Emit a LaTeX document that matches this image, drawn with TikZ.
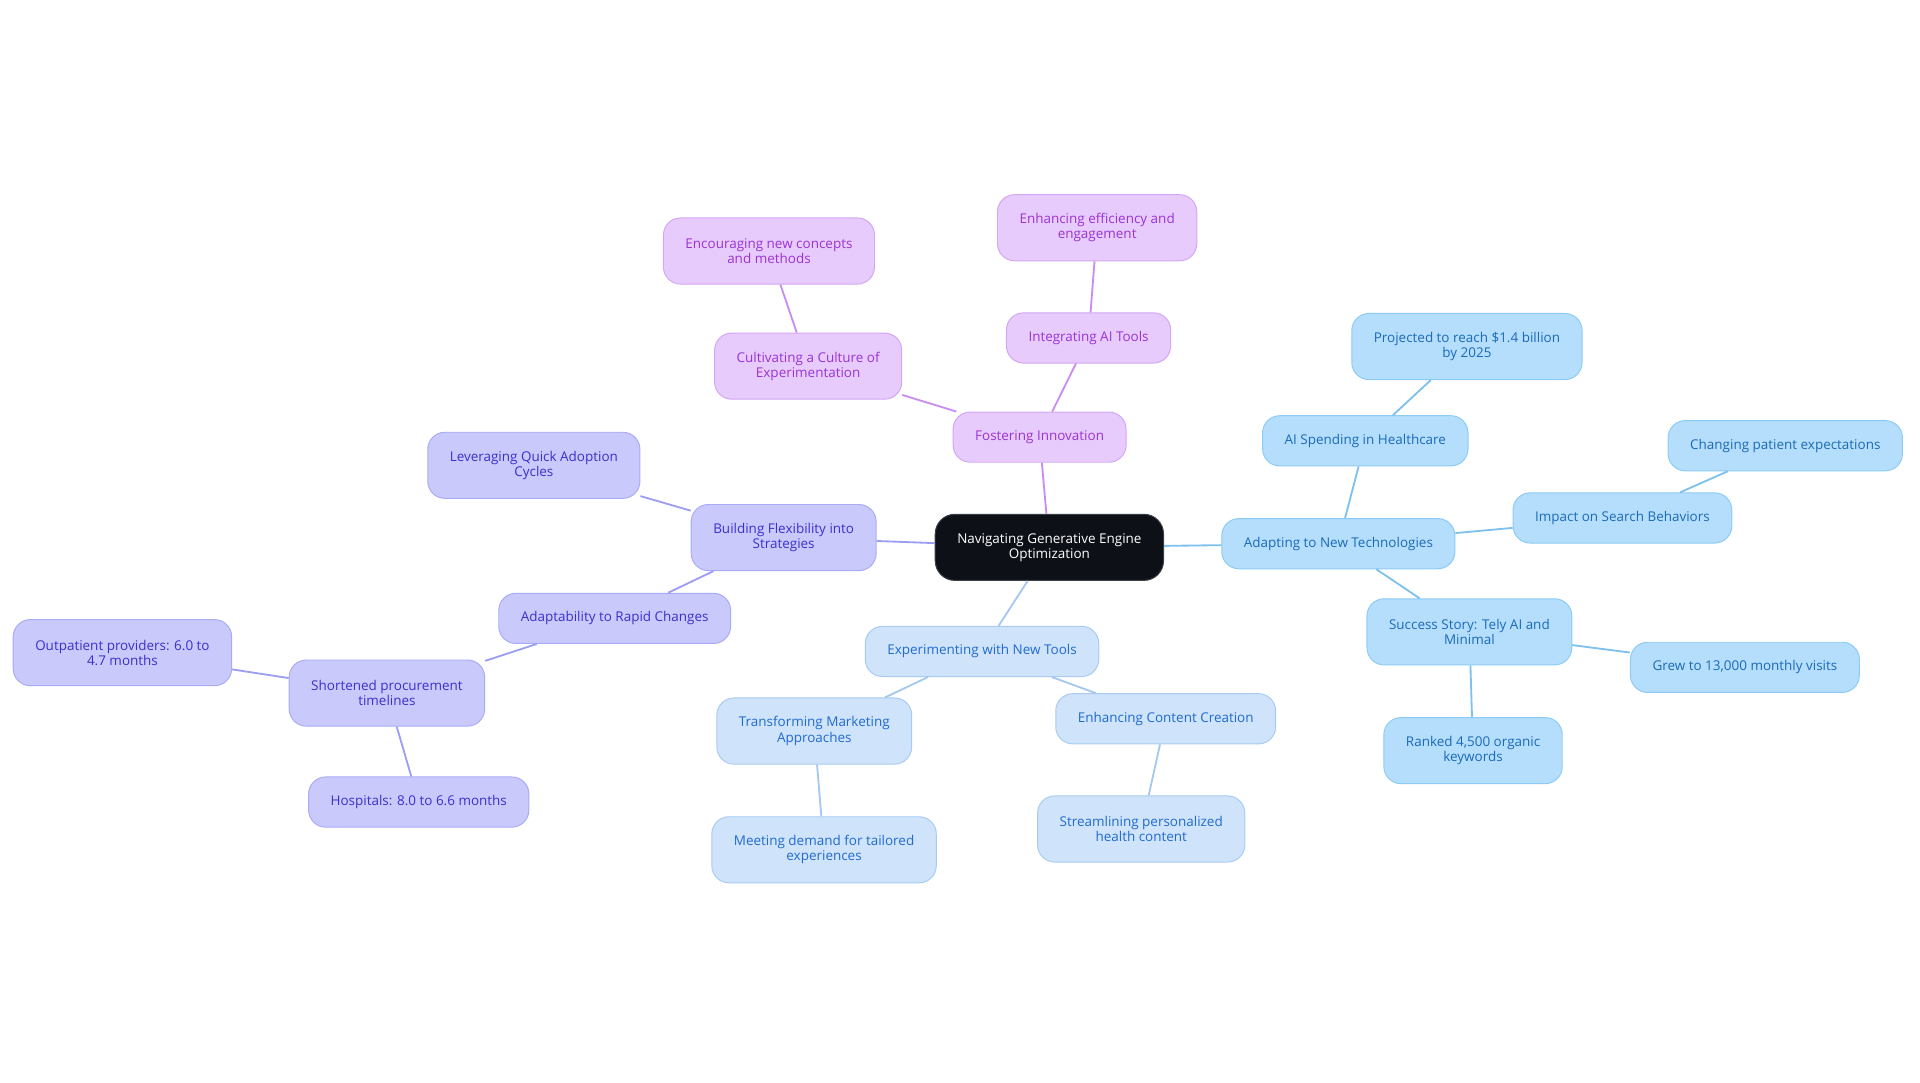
\documentclass[tikz,border=0pt]{standalone}
\usepackage{fontspec}
\setmainfont{Open Sans}
\usepackage{tikz}
\usetikzlibrary{positioning}

\definecolor{raizfondo}{HTML}{0D1117}
\definecolor{raizborde}{HTML}{3A3F47}
\definecolor{morafondo}{HTML}{E7CBFC}
\definecolor{moraborde}{HTML}{D3A6F5}
\definecolor{moratexto}{HTML}{9A33D6}
\definecolor{moralinea}{HTML}{C98CF0}
\definecolor{indfondo}{HTML}{C9CAFB}
\definecolor{indborde}{HTML}{A9ABF6}
\definecolor{indtexto}{HTML}{3B2FCF}
\definecolor{indlinea}{HTML}{9C9EF2}
\definecolor{azulfondo}{HTML}{CFE3FA}
\definecolor{azulborde}{HTML}{A9CBF3}
\definecolor{azultexto}{HTML}{1F6BD1}
\definecolor{azullinea}{HTML}{A4C8F2}
\definecolor{cielofondo}{HTML}{B5DEFC}
\definecolor{cieloborde}{HTML}{8CCBF5}
\definecolor{cielotexto}{HTML}{1A6AB8}
\definecolor{cielolinea}{HTML}{7EC0EE}

\begin{document}
\begin{tikzpicture}[on grid, line width=1.5pt]
    \tikzstyle{caja}=[rounded corners=14pt, align=center, minimum height=41pt, inner xsep=18pt, inner ysep=4pt, line width=0.8pt, font=\fontsize{11}{12.5}\selectfont]
    \tikzstyle{raiz}=[caja, fill=raizfondo, draw=raizborde, text=white, minimum height=54pt, rounded corners=16pt]
    \tikzstyle{mora}=[caja, fill=morafondo, draw=moraborde, text=moratexto]
    \tikzstyle{ind}=[caja, fill=indfondo, draw=indborde, text=indtexto]
    \tikzstyle{azul}=[caja, fill=azulfondo, draw=azulborde, text=azultexto]
    \tikzstyle{cielo}=[caja, fill=cielofondo, draw=cieloborde, text=cielotexto]
    \tikzstyle{doble}=[minimum height=54pt]

    % Nodo central
    \node[raiz]        (gen)                                    {Navigating Generative Engine\\Optimization};
    \useasboundingbox (-857pt,447pt) rectangle (711pt,-437.4pt);

    % Rama de innovacion
    \node[mora]        (fos)  [above left=90pt and 8pt of gen]      {Fostering Innovation};
    \node[mora,doble]  (cul)  [above left=58pt and 189pt of fos]    {Cultivating a Culture of\\Experimentation};
    \node[mora,doble]  (enc)  [above left=94pt and 32pt of cul]     {Encouraging new concepts\\and methods};
    \node[mora]        (int)  [above right=81pt and 40pt of fos]    {Integrating AI Tools};
    \node[mora,doble]  (efi)  [above right=90pt and 7pt of int]     {Enhancing efficiency and\\engagement};

    % Rama de flexibilidad
    \node[ind,doble]   (fle)  [above left=8pt and 217pt of gen]     {Building Flexibility into\\Strategies};
    \node[ind,doble]   (lev)  [above left=59pt and 204pt of fle]    {Leveraging Quick Adoption\\Cycles};
    \node[ind]         (ada)  [below left=66pt and 138pt of fle]    {Adaptability to Rapid Changes};
    \node[ind,doble]   (pro)  [below left=61pt and 186pt of ada]    {Shortened procurement\\timelines};
    \node[ind,doble]   (amb)  [above left=33pt and 216pt of pro]    {Outpatient providers: 6.0 to\\4.7 months};
    \node[ind]         (hos)  [below right=89pt and 26pt of pro]    {Hospitals: 8.0 to 6.6 months};

    % Rama de herramientas
    \node[azul]        (exp)  [below left=85pt and 55pt of gen]     {Experimenting with New Tools};
    \node[azul,doble]  (mar)  [below left=65pt and 137pt of exp]    {Transforming Marketing\\Approaches};
    \node[azul,doble]  (dem)  [below right=97pt and 8pt of mar]     {Meeting demand for tailored\\experiences};
    \node[azul]        (con)  [below right=55pt and 150pt of exp]   {Enhancing Content Creation};
    \node[azul,doble]  (sal)  [below left=90pt and 20pt of con]     {Streamlining personalized\\health content};

    % Rama de tecnologias
    \node[cielo]       (tec)  [above right=3pt and 236pt of gen]    {Adapting to New Technologies};
    \node[cielo]       (gas)  [above right=84pt and 22pt of tec]    {AI Spending in Healthcare};
    \node[cielo,doble] (pry)  [above right=77pt and 83pt of gas]    {Projected to reach \$1.4 billion\\by 2025};
    \node[cielo]       (bus)  [above right=21pt and 232pt of tec]   {Impact on Search Behaviors};
    \node[cielo]       (pac)  [above right=59pt and 133pt of bus]   {Changing patient expectations};
    \node[cielo,doble] (exi)  [below right=72pt and 107pt of tec]   {Success Story: Tely AI and\\Minimal};
    \node[cielo]       (vis)  [below right=29pt and 225pt of exi]   {Grew to 13,000 monthly visits};
    \node[cielo,doble] (key)  [below right=97pt and 3pt of exi]     {Ranked 4,500 organic\\keywords};

    \path[draw=moralinea]
        (gen) edge (fos)
        (fos) edge (cul)
              edge (int)
        (cul) edge (enc)
        (int) edge (efi);
    \path[draw=indlinea]
        (gen) edge (fle)
        (fle) edge (lev)
              edge (ada)
        (ada) edge (pro)
        (pro) edge (amb)
              edge (hos);
    \path[draw=azullinea]
        (gen) edge (exp)
        (exp) edge (mar)
              edge (con)
        (mar) edge (dem)
        (con) edge (sal);
    \path[draw=cielolinea]
        (gen) edge (tec)
        (tec) edge (gas)
              edge (bus)
              edge (exi)
        (gas) edge (pry)
        (bus) edge (pac)
        (exi) edge (vis)
              edge (key);
\end{tikzpicture}
\end{document}
